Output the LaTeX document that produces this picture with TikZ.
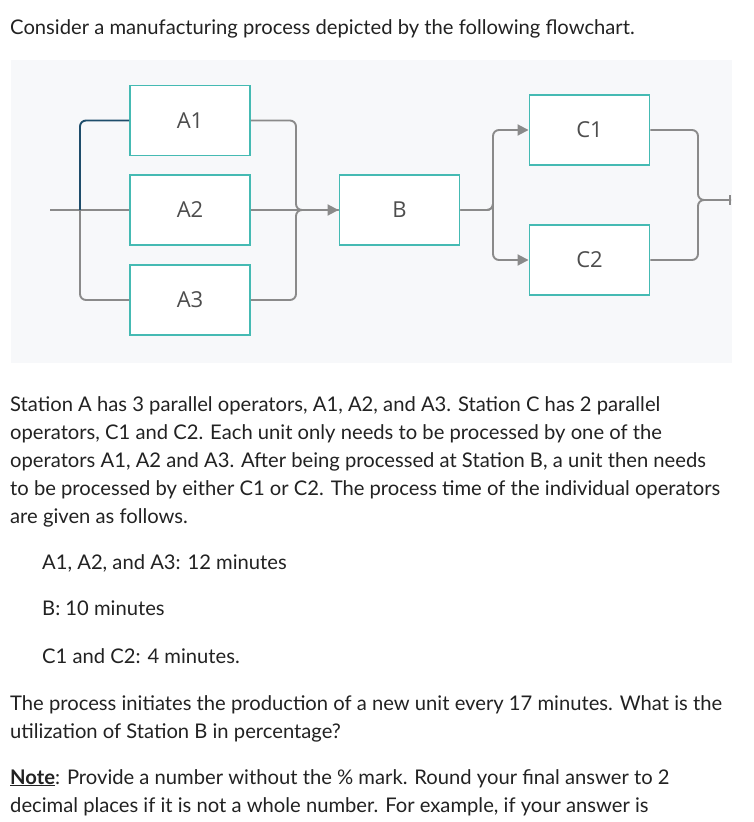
\documentclass[tikz,border=0pt]{standalone}
\usepackage{fontspec}
\setmainfont{Lato}
\newfontfamily\diafont{Open Sans}
\usetikzlibrary{arrows.meta}
\definecolor{panelbg}{HTML}{F7F8FA}
\definecolor{boxline}{HTML}{45BAB3}
\definecolor{conn}{HTML}{8A8A8A}
\definecolor{darkconn}{HTML}{1E4D6B}
\definecolor{labeltext}{HTML}{4D4D4D}
\definecolor{bodytext}{HTML}{222222}
\tikzset{
  opbox/.style={draw=boxline, line width=1.9pt, fill=white, minimum width=120pt, minimum height=70pt, inner sep=0pt, font=\diafont\fontsize{22}{25}\selectfont, text=labeltext},
  link/.style={draw=conn, line width=1.9pt, rounded corners=6pt},
  darklink/.style={draw=darkconn, line width=1.9pt, rounded corners=6pt},
  tip/.style={-{Triangle[length=11pt,width=11pt]}},
  line/.style={anchor=base west, inner sep=0pt, font=\fontsize{20.2}{24}\selectfont, text=bodytext}
}
\begin{document}
\begin{tikzpicture}[x=1pt,y=-1pt]
\useasboundingbox[fill=white] (0,0) rectangle (754,822);
\node[line] (t0) at (10,34) {Consider a manufacturing process depicted by the following flowchart.};
\fill[panelbg] (11,60) rectangle (732,363);
\node[opbox] (A1) at (190,120.5) {A1};
\node[opbox] (A2) at (190,210) {A2};
\node[opbox] (A3) at (190,300) {A3};
\node[opbox] (B) at (399.5,210) {B};
\node[opbox] (C1) at (589.5,130) {C1};
\node[opbox] (C2) at (589.5,260) {C2};
\coordinate (in) at (50,210);
\coordinate (split) at (80,210);
\coordinate (jA) at (296,210);
\coordinate (jB) at (493,210);
\coordinate (jC) at (698,200);
\coordinate (out) at (731,200);
% input side
\draw[link] (in) -- (A2.west);
\draw[link] (split) |- (A3.west);
\draw[darklink] (A1.west) -| (split);
% A to B
\draw[link] (A1.east) -| (jA) -- (B.west);
\draw[link] (A3.east) -| (jA) -- (B.west);
\draw[link,tip] (A2.east) -- (B.west);
% B to C
\draw[link,tip] (B.east) -| (jB) |- (C1.west);
\draw[link,tip] (B.east) -| (jB) |- (C2.west);
% C to out
\draw[link] (C1.east) -| (jC) -- (out);
\draw[link,-{Bar[width=10pt]}] (C2.east) -| (jC) -- (out);
% text
\node[line] (p1) at (10,411) {Station A has 3 parallel operators, A1, A2, and A3. Station C has 2 parallel};
\node[line] (p2) at (10,439) {operators, C1 and C2. Each unit only needs to be processed by one of the};
\node[line] (p3) at (10,467) {operators A1, A2 and A3. After being processed at Station B, a unit then needs};
\node[line] (p4) at (10,495) {to be processed by either C1 or C2. The process time of the individual operators};
\node[line] (p5) at (10,523) {are given as follows.};
\node[line] (l1) at (42,569) {A1, A2, and A3: 12 minutes};
\node[line] (l2) at (42,615) {B: 10 minutes};
\node[line] (l3) at (42,663) {C1 and C2: 4 minutes.};
\node[line] (q1) at (10,710) {The process initiates the production of a new unit every 17 minutes. What is the};
\node[line] (q2) at (10,738) {utilization of Station B in percentage?};
\node[line] (n1) at (10,784) {\underline{\textbf{Note}}: Provide a number without the \% mark. Round your final answer to 2};
\node[line] (n2) at (10,812) {decimal places if it is not a whole number. For example, if your answer is};
\end{tikzpicture}
\end{document}
